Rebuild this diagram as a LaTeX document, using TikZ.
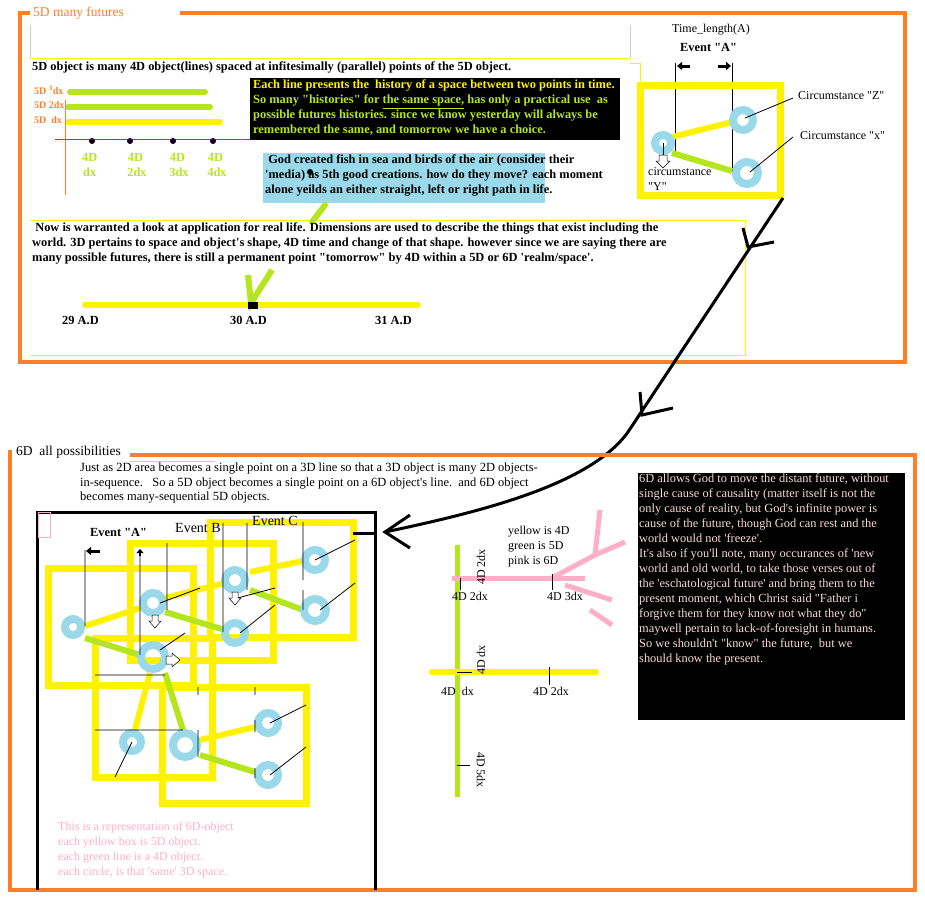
\documentclass[tikz,border=0pt]{standalone}
\usepackage{fontspec}
\setmainfont{Liberation Serif}[Ligatures=TeXOff]
\usetikzlibrary{arrows.meta}
\definecolor{org}{HTML}{FF7F27}
\definecolor{yel}{HTML}{FFF200}
\definecolor{grn}{HTML}{B5E61D}
\definecolor{lb}{HTML}{99D9EA}
\definecolor{pk}{HTML}{FFAEC9}
\definecolor{ptxt}{HTML}{F8D8D8}
\tikzset{
 fr/.style={draw=org,line width=4pt},
 ybox/.style={draw=yel,line width=7pt},
 ybar/.style={draw=yel,line width=6pt,line cap=round},
 gbar/.style={draw=grn,line width=6pt,line cap=round},
 circ/.style={draw=lb,line width=8pt},
 tb/.style={font=\fontsize{12.4}{15}\selectfont\bfseries,align=left,inner sep=0pt,anchor=north west},
 tr/.style={font=\fontsize{12}{15}\selectfont,align=left,inner sep=0pt,anchor=north west},
 thin/.style={draw=black,line width=0.8pt},
 lab/.style={font=\fontsize{10}{12}\selectfont\bfseries,text=org,inner sep=0pt,anchor=north west},
}
\begin{document}
\begin{tikzpicture}[x=1pt,y=-1pt]
\useasboundingbox (0,0) rectangle (925,900);
% ===== 5D frame
\draw[fr] (180,13) -- (905,13) -- (905,362) -- (20,362) -- (20,13) -- (30,13);
\node[tr,text=org,fill=white,inner sep=1pt,font=\fontsize{13.5}{15}\selectfont] (t5) at (32,6) {5D many futures};
\draw[gray!40,line width=0.6pt] (30,58) -- (30,25) (630,25) -- (630,58);
\draw[yel,line width=0.8pt] (30,58) -- (630,58) (630,63) -- (640,63) -- (640,82);
\draw[yel,line width=0.8pt] (30,220) -- (745,220) -- (745,355) -- (30,355);
\node[tb] (h1) at (32,62) {5D object is many 4D object(lines) spaced at infitesimally (parallel) points of the 5D object.};
\node[lab] (l3) at (34,86) {5D \textsuperscript{3}dx};
\node[lab] (l2) at (34,101) {5D 2dx};
\node[lab] (l1) at (34,116) {5D\ \ dx};
\draw[gbar] (70,92) -- (205,92);
\draw[gbar] (68,107) -- (210,107);
\draw[ybar] (68,122) -- (220,122);
\draw[org,line width=0.8pt] (65,100) -- (65,195);
\draw[green!60!black,line width=0.8pt] (55,139) -- (250,139);
\foreach \x in {92,130,173,213} \fill (\x,141) circle (3);
\node[tb,text=grn,align=center] (d1) at (82,153) {4D\\dx};
\node[tb,text=grn,align=center] (d2) at (124,153) {4D\\ \ 2dx};
\node[tb,text=grn,align=center] (d3) at (166,153) {4D\\ \ 3dx};
\node[tb,text=grn,align=center] (d4) at (204,153) {4D\\ \ 4dx};
\node[fill=black,minimum width=370pt,minimum height=62pt,anchor=north west,inner sep=0pt] (bk1) at (250,78) {};
\node[tb,text=grn] (bt) at (253,80) {\textcolor{yel}{Each line presents the\ \ history of a space between two points in time.}\\So many "histories" for \underline{the same space,} has only a practical use\ \ as\\possible futures histories. since we know yesterday will always be\\remembered the same, and tomorrow we have a choice.};
\node[fill=lb,minimum width=282pt,minimum height=50pt,anchor=north west,inner sep=0pt] (bb) at (263,153) {};
\node[tb] (bbt) at (265,155) {\ God created fish in sea and birds of the air (consider their\\'media) as 5th good creations. how do they move? each moment\\alone yeilds an either straight, left or right path in life.};
\fill (310,172) circle (3);
\draw[gbar] (325,205) -- (312,222);
\node[tb] (now) at (32,223) {\ Now is warranted a look at application for real life. Dimensions are used to describe the things that exist including the\\world. 3D pertains to space and object's shape, 4D time and change of that shape. however since we are saying there are\\many possible futures, there is still a permanent point "tomorrow" by 4D within a 5D or 6D 'realm/space'.};
\draw[ybar] (85,305) -- (418,305);
\draw[gbar,line cap=butt] (248,275) -- (251,303) -- (272,270);
\fill (248,302) rectangle (258,309);
\node[tb] (a29) at (62,316) {29 A.D};
\node[tb] (a30) at (230,316) {30 A.D};
\node[tb] (a31) at (375,316) {31 A.D};
% right diagram
\node[tr] (tl) at (672,24) {Time\_length(A)};
\node[tb] (ea) at (680,43) {Event "A"};
\draw[thin] (675,63) -- (675,157) (732,63) -- (732,175);
\draw[line width=3pt,-{Triangle[length=5pt,width=8pt]}] (690,66) -- (677,66);
\draw[line width=3pt,-{Triangle[length=5pt,width=8pt]}] (718,66) -- (731,66);
\draw[ybox] (640,85) rectangle (780,195);
\draw[ybar,line cap=butt] (672,137) -- (732,122);
\draw[gbar,line cap=butt] (672,153) -- (732,171);
\draw[circ] (663,143) circle (8);
\draw[circ] (743,120) circle (10);
\draw[circ] (747,173) circle (11);
\draw[thin] (745,118) -- (793,98) (750,172) -- (793,137);
\node[tr] (cz) at (798,91) {Circumstance "Z"};
\node[tr] (cx) at (800,131) {Circumstance "x"};
\draw[thin] (663,143) -- (663,155);
\draw[black,line width=0.5pt,fill=white] (659,155) -- (667,155) -- (667,161) -- (670,161) -- (663,168) -- (656,161) -- (659,161) -- cycle;
\node[tr,align=left] (cy) at (648,167) {circumstance\\"Y"};
% big curve
\coordinate (cs) at (783,198);
\coordinate (ce) at (385,532);
\draw[line width=3pt] (cs) -- (628,432) .. controls (590,485) and (480,512) .. (ce);
\draw[line width=3pt] (743,228) -- (748,247) -- (774,242);
\draw[line width=3pt] (640,392) -- (642,415) -- (673,408);
\draw[line width=3pt] (410,515) -- (385,532) -- (410,548);
% ===== 6D frame
\draw[fr] (130,455) -- (915,455) -- (915,890) -- (10,890) -- (10,450);
\draw[pk,line width=1pt] (130,461) -- (215,461);
\node[tr,font=\fontsize{13.5}{15}\selectfont] (t6) at (16,446) {6D\ \ all possibilities};
\node[tr,font=\fontsize{12.5}{14.5}\selectfont] (p6) at (80,463) {Just as 2D area becomes a single point on a 3D line so that a 3D object is many 2D objects-\\in-sequence.\ \ \ So a 5D object becomes a single point on a 6D object's line.\ \ and 6D object\\becomes many-sequential 5D objects.};
\draw[line width=3pt] (37,890) -- (37,512) -- (375,512) -- (375,890);
\draw[pk,line width=0.5pt] (38,512) rectangle (50,537);
% yellow boxes
\draw[ybox] (48,568) rectangle (193,685);
\draw[ybox] (130,543) rectangle (273,660);
\draw[ybox] (210,522) rectangle (353,637);
\draw[ybox] (95,638) rectangle (212,777);
\draw[ybox] (162,687) rectangle (306,803);
% lines
\draw[ybar,line cap=butt] (85,626) -- (140,608);
\draw[gbar,line cap=butt] (85,638) -- (140,655);
\draw[ybar,line cap=butt] (165,598) -- (225,583);
\draw[gbar,line cap=butt] (165,612) -- (225,630);
\draw[ybar,line cap=butt] (250,572) -- (303,561);
\draw[gbar,line cap=butt] (250,590) -- (303,610);
\draw[ybar,line cap=butt] (150,673) -- (135,730);
\draw[gbar,line cap=butt] (165,673) -- (183,730);
\draw[ybar,line cap=butt] (200,740) -- (255,727);
\draw[gbar,line cap=butt] (200,755) -- (255,772);
% circles
\foreach \p/\r in {{(73,627)}/8,{(153,603)}/10,{(153,657)}/12,{(235,580)}/10,{(235,633)}/10,{(315,560)}/10,{(315,610)}/11,{(132,742)}/9,{(185,745)}/12,{(268,723)}/10,{(268,775)}/10}
  \draw[circ] \p circle (\r);
% black thin marks
\draw[thin] (85,550) -- (85,626) (140,550) -- (140,655) (167,543) -- (167,610)
  (223,523) -- (223,632) (247,523) -- (247,590) (303,522) -- (303,580) (303,590) -- (303,610)
  (95,675) -- (165,675) (95,730) -- (183,730) (198,730) -- (198,757) (255,720) -- (255,732) (255,768) -- (255,778)
  (198,687) -- (198,695) (255,687) -- (255,695)
  (315,560) -- (355,540) (320,610) -- (355,583) (230,600) -- (275,588) (240,633) -- (275,605)
  (160,603) -- (200,588) (160,650) -- (185,633) (270,723) -- (306,705) (270,775) -- (306,747)
  (132,742) -- (115,777);
\draw[line width=3pt,-{Triangle[length=5pt,width=8pt]}] (100,551) -- (86,551);
\draw[line width=2pt,-{Triangle[length=4pt,width=7pt]}] (140,556) -- (140,549);
\draw[line width=3pt] (353,533) -- (375,533);
\foreach \a in {{(155,615)},{(235,592)}}{
  \draw[black,line width=0.5pt,fill=white] \a ++(-3,0) -- ++(6,0) -- ++(0,6) -- ++(3,0) -- ++(-6,7) -- ++(-6,-7) -- ++(3,0) -- cycle;}
\draw[black,line width=0.5pt,fill=white] (166,656) -- (172,656) -- (172,653) -- (180,660) -- (172,667) -- (172,664) -- (166,664) -- cycle;
\node[tb] (eA) at (90,528) {Event "A"};
\node[tr,font=\fontsize{14}{16}\selectfont] (eB) at (175,523) {Event B};
\node[tr,font=\fontsize{14}{16}\selectfont] (eC) at (252,516) {Event C};
\node[tr,text=pk] (pt) at (58,822) {This is a representation of 6D-object\\each yellow box is 5D object.\\each green line is a 4D object.\\each circle, is that 'same' 3D space.};
% legend diagram
\draw[draw=grn,line width=5pt] (457,545) -- (457,797);
\draw[draw=pk,line width=5pt] (452,578) -- (585,578);
\draw[draw=pk,line width=5pt] (552,578) -- (595,555) -- (600,510) (595,555) -- (625,542) (565,585) -- (612,600) (590,610) -- (612,625);
\draw[ybar] (432,672) -- (596,672);
\node[tr] (lg) at (508,526) {yellow is 4D\\green is 5D\\pink is 6D};
\draw[thin] (460,578) -- (460,590) (552,574) -- (552,590) (457,672) -- (472,672) (549,667) -- (549,685) (457,765) -- (470,765);
\node[tr] (x1) at (452,592) {4D 2dx};
\node[tr] (x2) at (547,592) {4D 3dx};
\node[tr,rotate=90,anchor=center] (x3) at (481,567) {4D 2dx};
\node[tr] (x4) at (441,687) {4D\ \ dx};
\node[tr] (x5) at (533,687) {4D 2dx};
\node[tr,rotate=90,anchor=center] (x6) at (481,660) {4D dx};
\node[tr,rotate=-90,anchor=center] (x7) at (481,770) {4D 5dx};
% black box
\node[fill=black,minimum width=267pt,minimum height=247pt,anchor=north west,inner sep=0pt] (bk2) at (638,473) {};
\node[tr,text=ptxt,font=\fontsize{12.4}{15}\selectfont] (bk2t) at (639,474) {6D allows God to move the distant future, without\\single cause of causality (matter itself is not the\\only cause of reality, but God's infinite power is\\cause of the future, though God can rest and the\\world would not 'freeze'.\\It's also if you'll note, many occurances of 'new\\world and old world, to take those verses out of\\the 'eschatological future' and bring them to the\\present moment, which Christ said "Father i\\forgive them for they know not what they do"\\maywell pertain to lack-of-foresight in humans.\\So we shouldn't "know" the future,\ \ but we\\should know the present.};
\end{tikzpicture}
\end{document}
